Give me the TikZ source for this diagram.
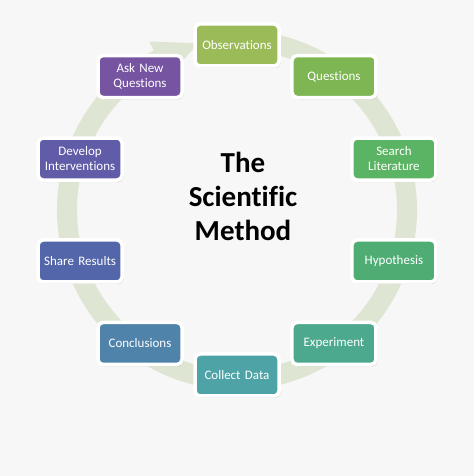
\documentclass[tikz,border=0pt]{standalone}
\usepackage{fontspec}
\setmainfont{Carlito}[Ligatures=NoCommon]
\usetikzlibrary{shadows}
\definecolor{bg}{HTML}{F7F7F7}
\definecolor{ringc}{HTML}{DEE6D3}
\definecolor{cA}{HTML}{9BBB59}
\definecolor{cB}{HTML}{7DB653}
\definecolor{cC}{HTML}{5BB463}
\definecolor{cD}{HTML}{4FAD74}
\definecolor{cE}{HTML}{4DA98E}
\definecolor{cF}{HTML}{4EA3A6}
\definecolor{cG}{HTML}{4F83A9}
\definecolor{cH}{HTML}{5366A9}
\definecolor{cI}{HTML}{615CA8}
\definecolor{cJ}{HTML}{7654A2}
\begin{document}
\begin{tikzpicture}[x=1pt,y=1pt,
  stepbox/.style={rounded corners=5pt, draw=white, line width=3.5pt,
    minimum width=84pt, minimum height=42pt, text width=80pt, align=center,
    text=white, font=\fontsize{13}{15}\selectfont, inner sep=0pt,
    drop shadow={opacity=0.22, shadow xshift=1.5pt, shadow yshift=-2pt}},
  titletext/.style={font=\fontsize{29}{34}\selectfont\bfseries, align=center, text=black}]
\fill[bg] (0,0) rectangle (474,476);
\useasboundingbox (0,0) rectangle (474,476);
\coordinate (c) at (237,266);
% ring with arrow
\draw[ringc, line width=20pt] ([shift={(80:170)}]c) arc[start angle=80, end angle=-243, radius=170];
\fill[ringc] ([shift={(117.5:150)}]c) -- ([shift={(117.5:190)}]c) -- ([shift={(103:171)}]c) -- cycle;
% steps
\node[stepbox, fill=cA] (obs) at ([shift={(90:165)}]c) {Observations};
\node[stepbox, fill=cB] (que) at ([shift={(54:165)}]c) {Questions};
\node[stepbox, fill=cC] (lit) at ([shift={(18:165)}]c) {Search\\Literature};
\node[stepbox, fill=cD] (hyp) at ([shift={(-18:165)}]c) {Hypothesis};
\node[stepbox, fill=cE] (exp) at ([shift={(-54:165)}]c) {Experiment};
\node[stepbox, fill=cF] (dat) at ([shift={(-90:165)}]c) {Collect Data};
\node[stepbox, fill=cG] (con) at ([shift={(-126:165)}]c) {Conclusions};
\node[stepbox, fill=cH] (sha) at ([shift={(-162:165)}]c) {Share Results};
\node[stepbox, fill=cI] (dev) at ([shift={(162:165)}]c) {Develop\\Interventions};
\node[stepbox, fill=cJ] (ask) at ([shift={(126:165)}]c) {Ask New\\Questions};
% title
\node[titletext] (title) at (243,280) {The\\Scientific\\Method};
\end{tikzpicture}
\end{document}
